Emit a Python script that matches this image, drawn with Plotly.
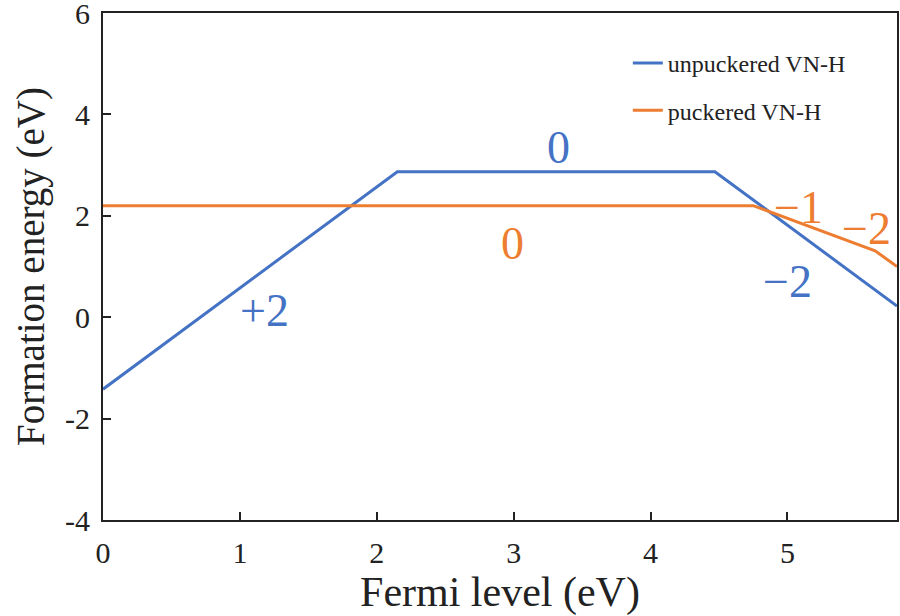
import plotly.graph_objects as go

# Data
fermi_unpuckered = [0, 2.15, 4.47, 5.8]
energy_unpuckered = [-1.42, 2.87, 2.87, 0.22]
fermi_puckered = [0, 4.75, 5.64, 5.8]
energy_puckered = [2.2, 2.2, 1.31, 1.0]

series_names = ["unpuckered VN-H", "puckered VN-H"]
colors = ["#4472C4", "#ED7D31"]

# charge state labels: (text, x, y, color index)
label_text = ["0", "0", "+2", "−2", "−1", "−2"]
label_x = [3.33, 2.99, 1.18, 5.0, 5.08, 5.58]
label_y = [3.35, 1.46, 0.14, 0.71, 2.17, 1.74]
label_series = [0, 1, 0, 0, 1, 1]

x_ticks = [0, 1, 2, 3, 4, 5]
x_tick_text = ["0", "1", "2", "3", "4", "5"]
y_ticks = [-4, -2, 0, 2, 4, 6]
y_tick_text = ["-4", "-2", "0", "2", "4", "6"]

FONT = "Liberation Serif"

fig = go.Figure()
fig.add_trace(go.Scatter(x=fermi_unpuckered, y=energy_unpuckered, mode="lines",
                         name=series_names[0], legendgroup="a",
                         line=dict(color=colors[0], width=3)))
fig.add_trace(go.Scatter(x=fermi_puckered, y=energy_puckered, mode="lines",
                         name=series_names[1], legendgroup="b",
                         line=dict(color=colors[1], width=3)))

for t, x, y, s in zip(label_text, label_x, label_y, label_series):
    fig.add_annotation(x=x, y=y, text=t, showarrow=False,
                       font=dict(family=FONT, size=46, color=colors[s]))

fig.update_layout(
    width=900, height=616,
    margin=dict(l=103, r=3, t=13, b=96, autoexpand=False),
    paper_bgcolor="white", plot_bgcolor="white",
    font=dict(family=FONT, color="#222"),
    showlegend=True,
    legend=dict(x=0.661, y=0.945, xanchor="left", yanchor="top",
                font=dict(family=FONT, size=24, color="#222"),
                tracegroupgap=13, bgcolor="rgba(0,0,0,0)"),
)
fig.update_xaxes(range=[0, 5.8], tickvals=x_ticks, ticktext=x_tick_text,
                 ticks="inside", ticklen=8, automargin=False,
                 tickwidth=1.5, tickcolor="#222", showline=True, linecolor="#222",
                 linewidth=2, mirror=True, showgrid=False, zeroline=False,
                 tickfont=dict(family=FONT, size=30, color="#222"),
                 ticklabelstandoff=5, ticklabeloverflow="allow",
                 title=dict(text="Fermi level (eV)", font=dict(family=FONT, size=42, color="#222"),
                            standoff=0))
fig.update_yaxes(range=[-4, 6], tickvals=y_ticks, ticktext=y_tick_text,
                 ticks="inside", ticklen=8, automargin=False,
                 tickwidth=1.5, tickcolor="#222", showline=True, linecolor="#222",
                 linewidth=2, mirror=True, showgrid=False, zeroline=False,
                 tickfont=dict(family=FONT, size=30, color="#222"),
                 ticklabelstandoff=5, ticklabeloverflow="allow",
                 title=dict(text="Formation energy (eV)", font=dict(family=FONT, size=39, color="#222"),
                            standoff=8))

fig.write_html("out.html")
